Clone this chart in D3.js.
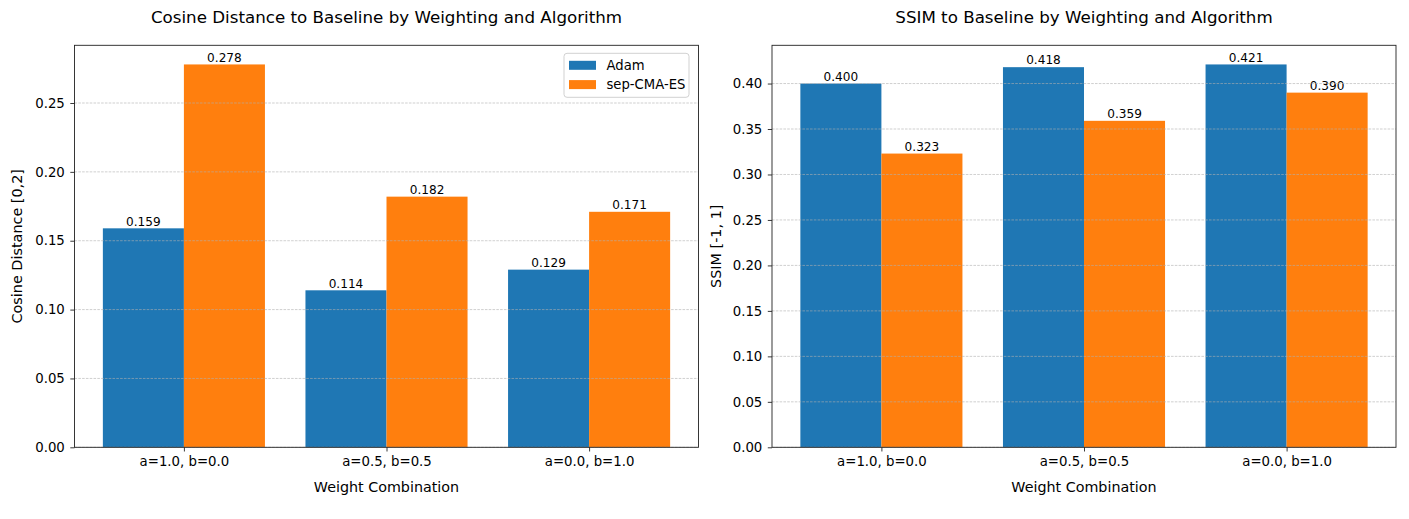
<!DOCTYPE html>
<meta charset="utf-8">
<style>
    body { margin: 0; background: #fff; }
    svg text { font-family: "DejaVu Sans", sans-serif; fill: #000; }
</style>
<script src="https://d3js.org/d3.v7.min.js"></script>
<div id="chart"></div>
<script>
    // data
    var categories = ["a=1.0, b=0.0", "a=0.5, b=0.5", "a=0.0, b=1.0"];
    var algorithms = ["Adam", "sep-CMA-ES"];
    var colors = ["#1f77b4", "#ff7f0e"];

    var cosineAdam = [0.159, 0.114, 0.129];
    var cosineCma = [0.278, 0.182, 0.171];
    var ssimAdam = [0.400, 0.418, 0.421];
    var ssimCma = [0.323, 0.359, 0.390];

    var cosineTicks = [0.00, 0.05, 0.10, 0.15, 0.20, 0.25];
    var ssimTicks = [0.00, 0.05, 0.10, 0.15, 0.20, 0.25, 0.30, 0.35, 0.40];

    var W = 1409, H = 519;
    var svg = d3.select("#chart").append("svg")
        .attr("width", W)
        .attr("height", H);

    var barW = 0.4;

    function panel(opts) {
        var x0 = opts.x0, x1 = opts.x0 + 624, y0 = 45.3, y1 = 447.3;
        var series = [opts.a, opts.b];
        var ymax = d3.max(series.flat()) * 1.05;

        var x = d3.scaleLinear().domain([-0.54, categories.length - 1 + 0.54]).range([x0, x1]);
        var y = d3.scaleLinear().domain([0, ymax]).range([y1, y0]);

        var g = svg.append("g");

        // bars
        series.forEach(function(vals, s) {
            g.selectAll(".bar" + s)
                .data(vals)
                .enter()
                .append("rect")
                .attr("x", function(d, i) { return x(i - barW + s * barW); })
                .attr("y", function(d) { return y(d); })
                .attr("width", x(barW) - x(0))
                .attr("height", function(d) { return y1 - y(d); })
                .attr("fill", colors[s]);

            g.selectAll(".lab" + s)
                .data(vals)
                .enter()
                .append("text")
                .attr("x", function(d, i) { return x(i - barW / 2 + s * barW); })
                .attr("y", function(d) { return y(d) - 2.7; })
                .attr("text-anchor", "middle")
                .style("font-size", "12.1px")
                .text(function(d) { return d.toFixed(3); });
        });

        // dashed grid, drawn on top of the bars
        g.selectAll(".grid")
            .data(opts.ticks)
            .enter()
            .append("line")
            .attr("x1", x0).attr("x2", x1)
            .attr("y1", function(d) { return y(d); })
            .attr("y2", function(d) { return y(d); })
            .attr("stroke", "#b0b0b0")
            .attr("stroke-opacity", 0.75)
            .attr("stroke-width", 0.8)
            .attr("stroke-dasharray", "2.6,1.2");

        // axes
        var yAxis = g.append("g")
            .attr("transform", "translate(" + x0 + ",0)")
            .call(d3.axisLeft(y).tickValues(opts.ticks).tickFormat(d3.format(".2f")).tickSize(4.2).tickPadding(5.5));
        var xAxis = g.append("g")
            .attr("transform", "translate(0," + y1 + ")")
            .call(d3.axisBottom(x).tickValues(d3.range(categories.length))
                .tickFormat(function(i) { return categories[i]; }).tickSize(4.2).tickPadding(5));
        [xAxis, yAxis].forEach(function(a) {
            a.select(".domain").remove();
            a.selectAll("line").attr("stroke", "#222").attr("stroke-width", 0.9);
            a.selectAll("text").style("font-size", "13.3px").attr("fill", "#000")
                .style("font-family", "DejaVu Sans, sans-serif");
        });

        // frame
        g.append("rect")
            .attr("x", x0).attr("y", y0)
            .attr("width", x1 - x0).attr("height", y1 - y0)
            .attr("fill", "none")
            .attr("stroke", "#222")
            .attr("stroke-width", 0.9);

        // titles
        g.append("text")
            .attr("x", (x0 + x1) / 2).attr("y", 23)
            .attr("text-anchor", "middle")
            .style("font-size", "16.7px")
            .text(opts.title);
        g.append("text")
            .attr("x", (x0 + x1) / 2).attr("y", 492)
            .attr("text-anchor", "middle")
            .style("font-size", "14.3px")
            .text("Weight Combination");
        g.append("text")
            .attr("transform", "translate(" + opts.ylabX + "," + ((y0 + y1) / 2) + ") rotate(-90)")
            .attr("text-anchor", "middle")
            .attr("dy", "0.35em")
            .style("font-size", "14.4px")
            .text(opts.ylabel);

        return { x0: x0, x1: x1, y0: y0 };
    }

    var left = panel({
        x0: 74.5, a: cosineAdam, b: cosineCma, ticks: cosineTicks,
        title: "Cosine Distance to Baseline by Weighting and Algorithm",
        ylabel: "Cosine Distance [0,2]", ylabX: 17
    });
    panel({
        x0: 772, a: ssimAdam, b: ssimCma, ticks: ssimTicks,
        title: "SSIM to Baseline by Weighting and Algorithm",
        ylabel: "SSIM [-1, 1]", ylabX: 716
    });

    // legend on the left panel
    var lg = svg.append("g").attr("transform", "translate(" + (left.x1 - 134.5) + "," + (left.y0 + 8) + ")");
    lg.append("rect")
        .attr("width", 125).attr("height", 44)
        .attr("rx", 3).attr("ry", 3)
        .attr("fill", "#fff").attr("fill-opacity", 0.8)
        .attr("stroke", "#cccccc").attr("stroke-width", 0.9);
    algorithms.forEach(function(name, i) {
        lg.append("rect")
            .attr("x", 5).attr("y", 7.5 + i * 19.3)
            .attr("width", 27).attr("height", 9)
            .attr("fill", colors[i]);
        lg.append("text")
            .attr("x", 42.5).attr("y", 12 + i * 19.3)
            .attr("dy", "0.35em")
            .style("font-size", "13.2px")
            .text(name);
    });
</script>
